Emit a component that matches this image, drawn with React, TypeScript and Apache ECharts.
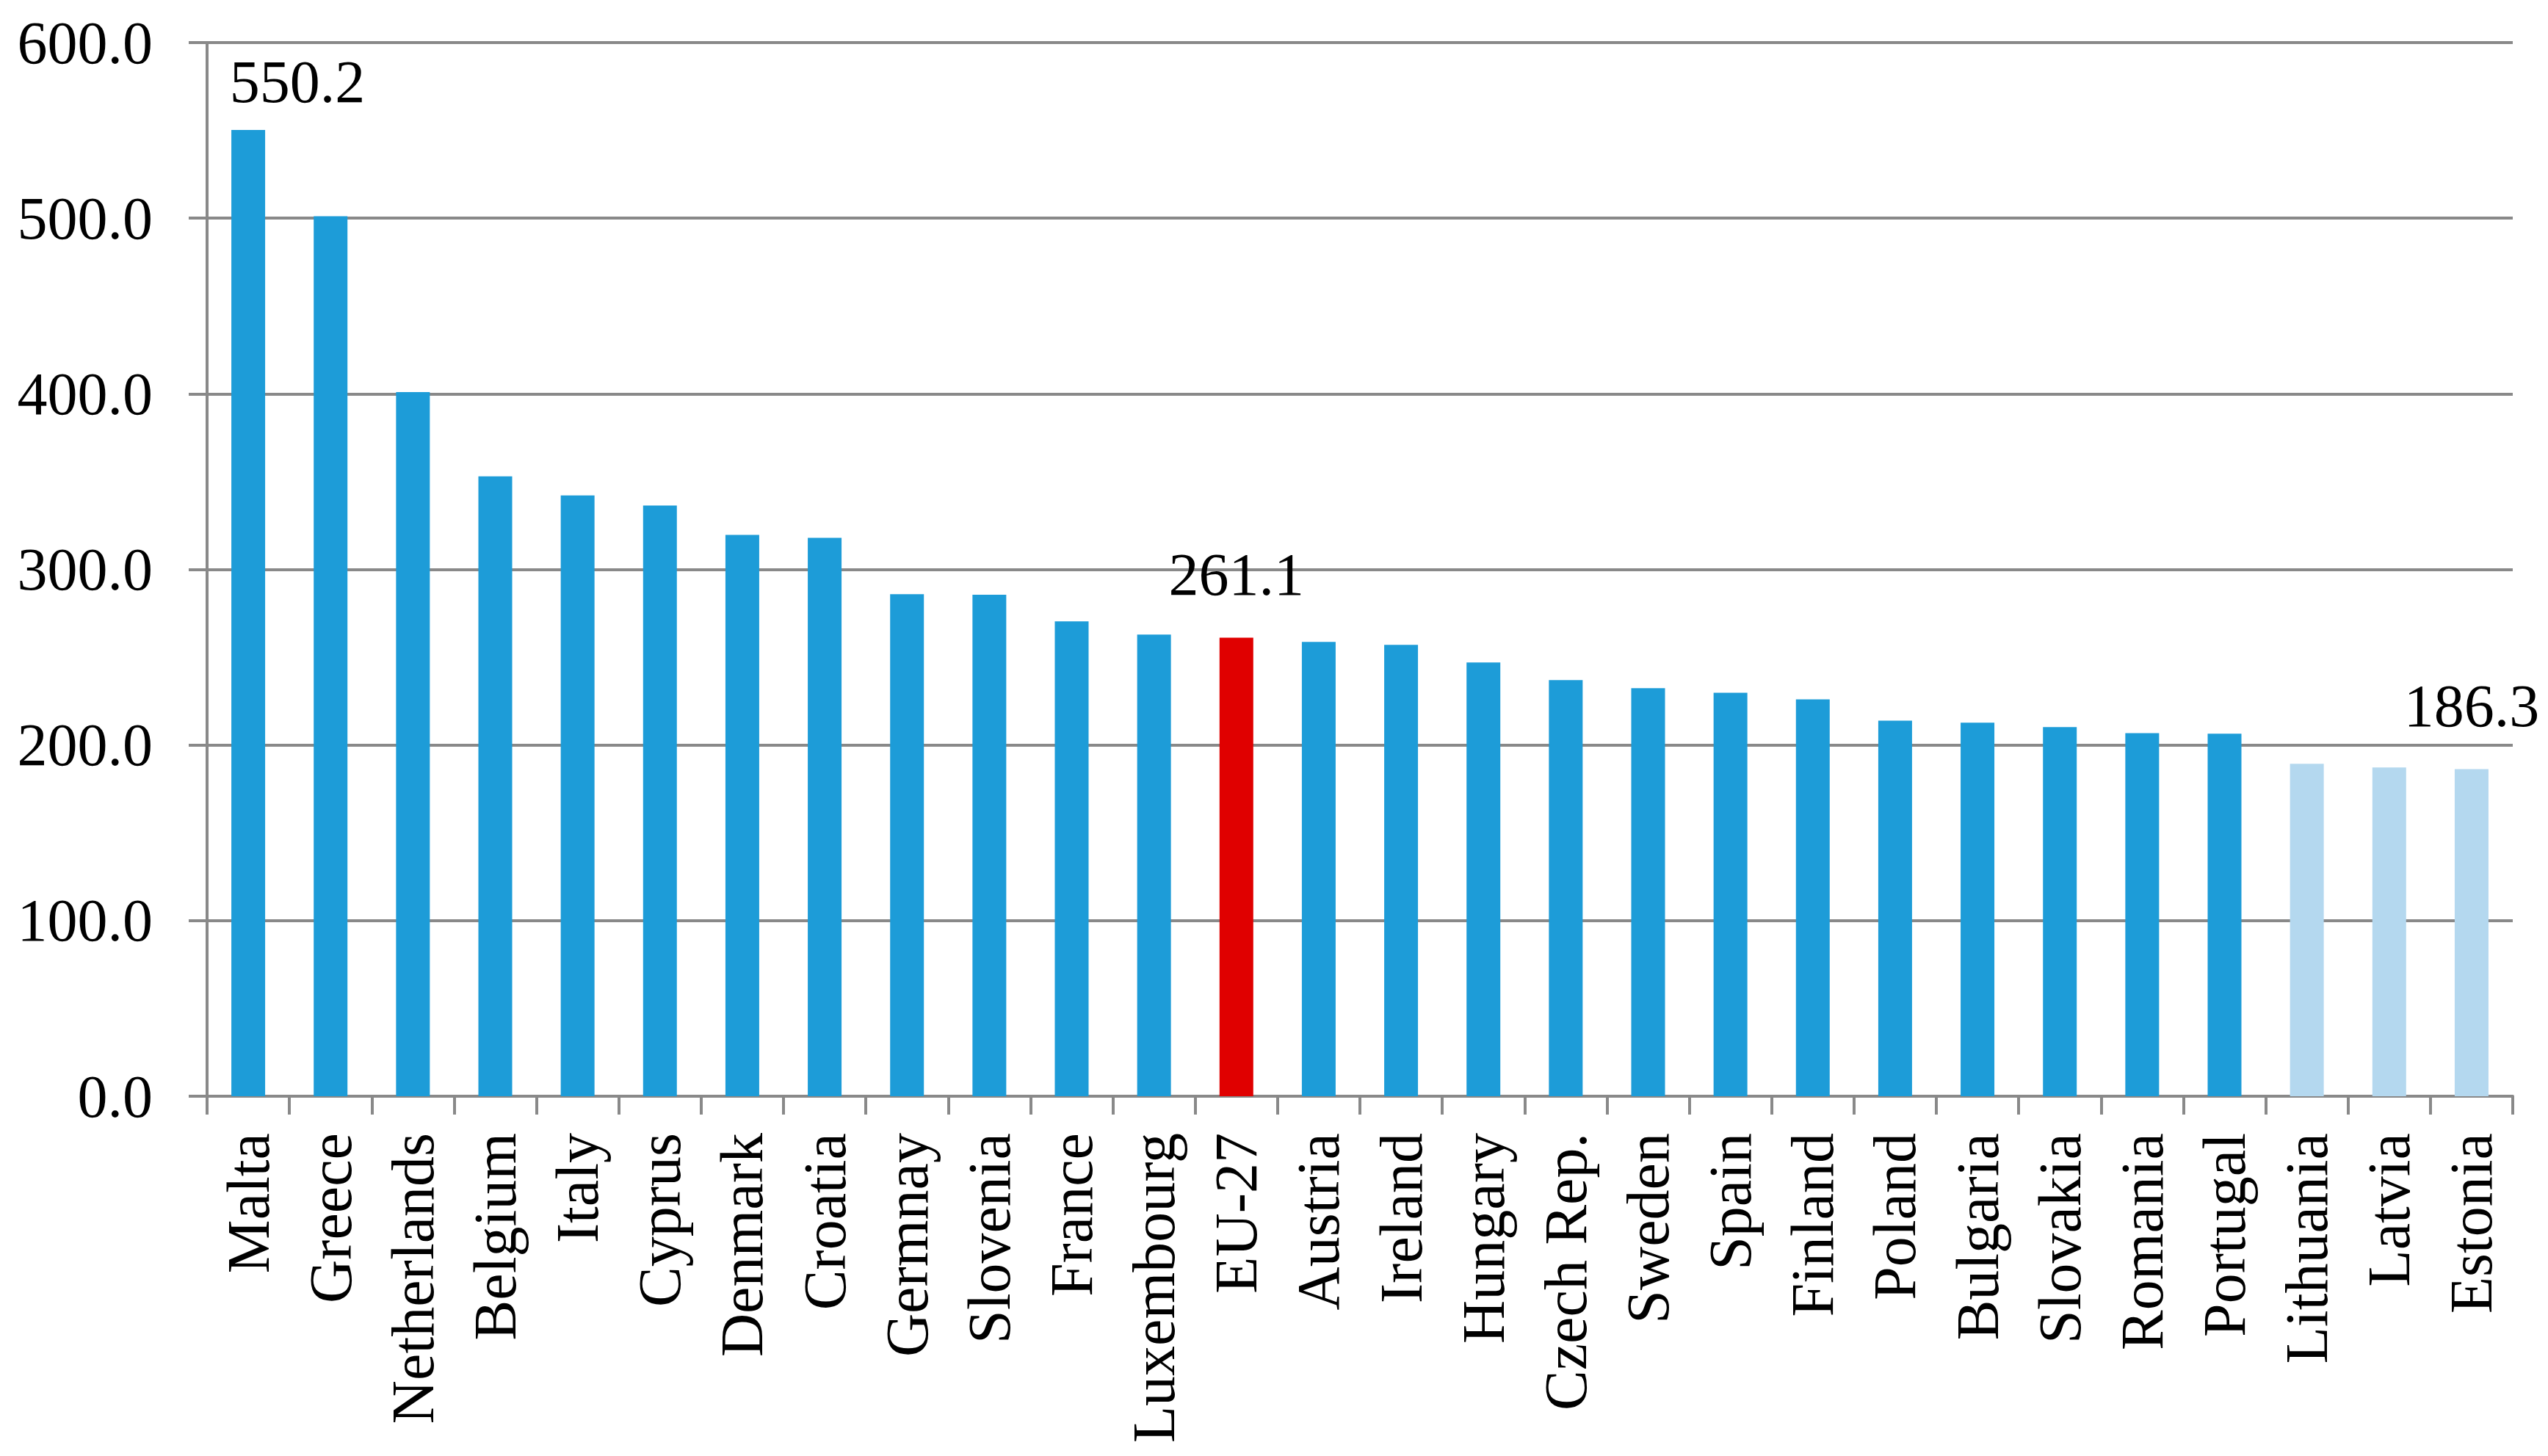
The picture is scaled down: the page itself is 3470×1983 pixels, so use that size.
import React, { useEffect, useRef } from "react";
import * as echarts from "echarts";

const categories = [
  "Malta", "Greece", "Netherlands", "Belgium", "Italy", "Cyprus", "Denmark",
  "Croatia", "Germnay", "Slovenia", "France", "Luxembourg", "EU-27", "Austria",
  "Ireland", "Hungary", "Czech Rep.", "Sweden", "Spain", "Finland", "Poland",
  "Bulgaria", "Slovakia", "Romania", "Portugal", "Lithuania", "Latvia", "Estonia",
];
const values = [
  550.2, 501.1, 401.0, 353.0, 342.1, 336.4, 319.6, 318.0, 285.9, 285.6, 270.4,
  262.9, 261.1, 258.7, 257.0, 247.0, 237.0, 232.4, 229.8, 226.0, 213.9, 212.7,
  210.2, 206.8, 206.4, 189.3, 187.2, 186.3,
];
const highlighted = ["EU-27"];
const lightGroup = ["Lithuania", "Latvia", "Estonia"];
const labelled = ["Malta", "EU-27", "Estonia"];
const yTicks = { min: 0, max: 600, interval: 100 };

const BLUE = "#1D9CD8";
const LIGHT = "#B4D8EF";
const RED = "#E00000";
const GRID = "#898989";
const FONT = "'Liberation Serif', 'Times New Roman', serif";

export default function App() {
  const ref = useRef<HTMLDivElement>(null);
  useEffect(() => {
    if (!ref.current) return;
    const chart = echarts.init(ref.current, undefined, { renderer: "svg" });
    const data = categories.map((c, i) => {
      const color = highlighted.includes(c) ? RED : lightGroup.includes(c) ? LIGHT : BLUE;
      const item: any = { value: values[i], itemStyle: { color } };
      if (labelled.includes(c)) {
        item.label = {
          show: true,
          position: "top",
          distance: 45,
          fontSize: 82,
          fontFamily: FONT,
          color: "#000",
          formatter: (p: any) => Number(p.value).toFixed(1),
          offset: c === "Malta" ? [67, 20] : [0, 0],
        };
      }
      return item;
    });
    chart.setOption({
      animation: false,
      backgroundColor: "#fff",
      grid: { left: 282, right: 48, top: 58, bottom: 490, containLabel: false },
      xAxis: {
        type: "category",
        data: categories,
        axisLine: { show: true, lineStyle: { color: GRID, width: 4 } },
        axisTick: { show: true, length: 25, lineStyle: { color: GRID, width: 4 }, alignWithLabel: false },
        axisLabel: {
          interval: 0,
          rotate: 90,
          margin: 50,
          fontSize: 82,
          fontFamily: FONT,
          color: "#000",
        },
      },
      yAxis: {
        type: "value",
        min: yTicks.min,
        max: yTicks.max,
        interval: yTicks.interval,
        axisLine: { show: true, lineStyle: { color: GRID, width: 4 } },
        axisTick: { show: true, length: 25, lineStyle: { color: GRID, width: 4 } },
        splitLine: { show: true, lineStyle: { color: GRID, width: 4 } },
        axisLabel: {
          margin: 74,
          fontSize: 82,
          fontFamily: FONT,
          color: "#000",
          formatter: (v: number) => v.toFixed(1),
        },
      },
      series: [
        {
          type: "bar",
          data,
          barWidth: 46,
          label: { show: false },
        },
      ],
    });
    return () => chart.dispose();
  }, []);
  return (
    <div
      ref={ref}
      style={{ position: "fixed", left: 0, top: 0, width: 3470, height: 1983, background: "#fff" }}
    />
  );
}
